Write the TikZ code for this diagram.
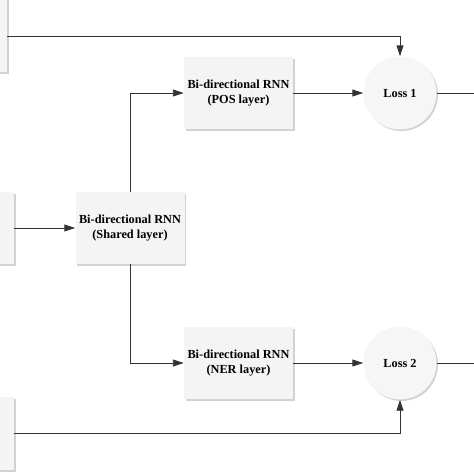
\documentclass[tikz,border=0pt]{standalone}
\usepackage{fontspec}
\setmainfont{Liberation Serif}
\usetikzlibrary{positioning, shadows, arrows.meta}

\begin{document}
\begin{tikzpicture}[x=1pt, y=-1pt, font=\bfseries\fontsize{12.3}{15}\selectfont,
    layer/.style={rectangle, fill=gray!9, align=center, inner sep=0pt, minimum width=109pt, minimum height=72pt, drop shadow={shadow xshift=1.5pt, shadow yshift=-1.5pt, fill=gray!50, opacity=0.7}},
    loss/.style={circle, fill=gray!7, minimum size=73pt, inner sep=0pt, drop shadow={shadow xshift=1.5pt, shadow yshift=-1.5pt, fill=gray!50, opacity=0.7}},
    link/.style={draw=black!80, line width=0.9pt, -{Triangle[length=11pt, width=7pt]}}]
    \useasboundingbox (0,0) rectangle (474,474);
    \clip (0,0) rectangle (474,474);
    % inputs, cut off at the left edge
    \node[layer, minimum width=70pt, minimum height=82pt] (in1) at (-28,31) {};
    \node[layer, minimum width=74pt] (in2) at (-23,228) {};
    \node[layer, minimum width=74pt, minimum height=73pt] (in3) at (-23,433.5) {};
    % layers
    \node[layer] (shared) at (130,228) {Bi-directional RNN\\(Shared layer)};
    \node[layer] (pos) at (238.5,93) {Bi-directional RNN\\(POS layer)};
    \node[layer] (ner) at (238.5,363) {Bi-directional RNN\\(NER layer)};
    \node[loss] (loss1) at (400,93) {Loss 1};
    \node[loss] (loss2) at (400,363) {Loss 2};
    \coordinate (out1) at (474,93);
    \coordinate (out2) at (474,363);
    % connectors
    \draw[link] (in2.east) -- (shared.west);
    \draw[link] (shared.north) |- (pos.west);
    \draw[link] (shared.south) |- (ner.west);
    \draw[link] (pos.east) -- (loss1.west);
    \draw[link] (ner.east) -- (loss2.west);
    \draw[link] (in1.east |- 0,36) -| (loss1.north);
    \draw[link] (in3.east |- 0,433) -| (loss2.south);
    \draw[draw=black!80, line width=0.9pt] (loss1.east) -- (out1);
    \draw[draw=black!80, line width=0.9pt] (loss2.east) -- (out2);
\end{tikzpicture}
\end{document}
